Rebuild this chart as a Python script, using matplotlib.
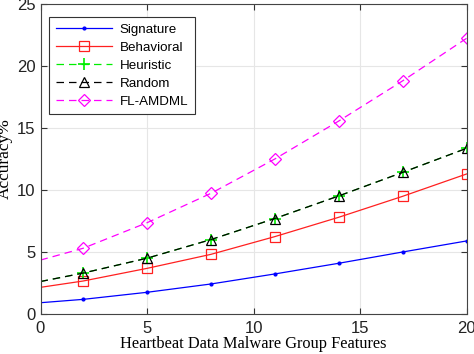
import numpy as np
import matplotlib
matplotlib.use('Agg')
import matplotlib.pyplot as plt

# values (x = 0 point has no marker)
features = [0, 2, 5, 8, 11, 14, 17, 20]
signature = [0.91, 1.18, 1.75, 2.42, 3.23, 4.09, 5.00, 5.89]
behavioral = [2.15, 2.66, 3.68, 4.81, 6.24, 7.80, 9.49, 11.29]
heuristic = [2.62, 3.30, 4.50, 6.00, 7.70, 9.52, 11.42, 13.36]
random_sel = [2.62, 3.30, 4.50, 6.00, 7.70, 9.52, 11.42, 13.36]
fl_amdml = [4.35, 5.30, 7.36, 9.73, 12.50, 15.56, 18.80, 22.23]

plt.rcParams['font.family'] = ['Liberation Sans', 'DejaVu Sans']

fig = plt.figure(figsize=(4.74, 3.54), dpi=100)
ax = fig.add_axes([40.5 / 474, 1 - 314 / 354, 426 / 474, 310 / 354])

mk = range(1, len(features))
ax.plot(features, signature, '-', color='#0000ff', lw=0.9, marker='.',
        markersize=4, markevery=mk, label='Signature')
ax.plot(features, behavioral, '-', color='#ff2020', lw=0.9, marker='s',
        markersize=6.5, markerfacecolor='none', markeredgewidth=0.9,
        markevery=mk, label='Behavioral')
ax.plot(features, heuristic, '--', color='#00ee00', lw=0.9, marker='+',
        markersize=9, markeredgewidth=1.2, dashes=(6, 4),
        markevery=mk, label='Heuristic')
ax.plot(features, random_sel, '--', color='black', lw=0.9, marker='^',
        markersize=7.5, markerfacecolor='none', markeredgewidth=0.9,
        dashes=(6, 4), markevery=mk, label='Random')
ax.plot(features, fl_amdml, '--', color='#ff00ff', lw=0.9, marker='D',
        markersize=6.5, markerfacecolor='none', markeredgewidth=0.9,
        dashes=(6, 4), markevery=mk, label='FL-AMDML')

ax.set_xlim(0, 20)
ax.set_ylim(0, 25)
ax.set_xticks([0, 5, 10, 15, 20])
ax.set_yticks([0, 5, 10, 15, 20, 25])
ax.grid(True, color='#e6e6e6', lw=0.8)
ax.set_axisbelow(True)
ax.tick_params(direction='in', top=True, right=True, labelsize=12,
               length=4, color='#333333', labelcolor='#222222')
ax.tick_params(axis='x', pad=5)
for s in ax.spines.values():
    s.set_color('#444444')
    s.set_linewidth(0.8)

ax.set_xlabel('Heartbeat Data Malware Group Features', family='Liberation Serif',
              fontsize=11.8, labelpad=0)
ax.set_ylabel('Accuracy%', family='Liberation Serif', fontsize=12.5, labelpad=3)

leg = ax.legend(loc='upper left', bbox_to_anchor=(0.02, 0.958), fontsize=9.6,
                fancybox=False, edgecolor='#333333', framealpha=1,
                borderaxespad=0, handlelength=4.2, handletextpad=0.6,
                borderpad=0.5, labelspacing=0.42)
leg.get_frame().set_linewidth(0.8)

fig.savefig('out.png', dpi=100)
